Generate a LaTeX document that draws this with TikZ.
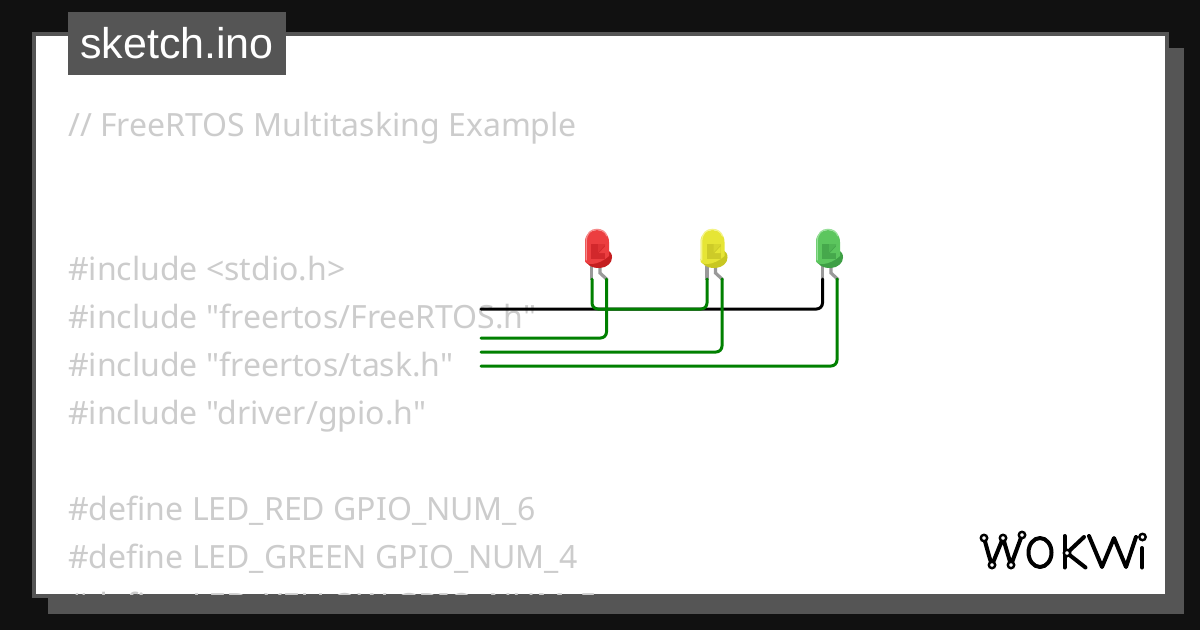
\documentclass[tikz,border=0pt]{standalone}
\usepackage{fontspec}
\setmainfont{Noto Sans}[Ligatures=TeXOff]
\newfontfamily\titlefont{Liberation Sans}
\definecolor{bgdark}{HTML}{111111}
\definecolor{framegray}{HTML}{555555}
\definecolor{codegray}{HTML}{CCCCCC}
\definecolor{wiregreen}{HTML}{008000}
\definecolor{leggray}{HTML}{999999}
\definecolor{redbody}{HTML}{EC3E40}
\definecolor{redrim}{HTML}{C41E20}
\definecolor{redmark}{HTML}{D2282C}
\definecolor{redhi}{HTML}{F68C8C}
\definecolor{yelbody}{HTML}{E6E535}
\definecolor{yelrim}{HTML}{C8C722}
\definecolor{yelmark}{HTML}{CDCB28}
\definecolor{yelhi}{HTML}{F4F388}
\definecolor{grnbody}{HTML}{5CC65E}
\definecolor{grnrim}{HTML}{3E9F45}
\definecolor{grnmark}{HTML}{46A84C}
\definecolor{grnhi}{HTML}{98E09A}
\tikzset{
  codeline/.style={anchor=base west,inner sep=0pt,text=codegray,font=\fontsize{32}{32}\selectfont},
  wire/.style={line width=3pt,rounded corners=6pt,line cap=round},
  greenwire/.style={wire,draw=wiregreen},
  blackwire/.style={wire,draw=black},
  leg/.style={draw=leggray,line width=3.2pt},
  logo/.style={draw=black,line width=4pt,line cap=round,line join=round},
  pad/.style={draw=black,line width=2.4pt,fill=white},
}
% LED: #1 centre x, #2 body, #3 rim, #4 marking, #5 highlight
\newcommand{\ledshape}[5]{%
  \begin{scope}[shift={(#1,230)}]
    \draw[leg] (-5.5,36) -- (-5.5,50);
    \draw[leg] (3,36) -- (3,43) -- (9.5,49) -- (9.5,50);
    \fill[#3] (-12,29) .. controls (-12,34) and (-5,38.5) .. (3,38) .. controls (10,37.5) and (15,33) .. (15,27.5) .. controls (15,24) and (13.5,22) .. (12,21) -- cycle;
    \fill[#2] (-12,31) -- (-12,12) .. controls (-12,-4) and (12,-4) .. (12,12) -- (12,26) .. controls (8,30) and (0,34) .. (-5,34) .. controls (-9,34) and (-12,33) .. (-12,31) -- cycle;
    \fill[#4] (-6,14) -- (8,14) -- (8,29) -- (-6,29) -- cycle;
    \fill[#4!55!#2] (1,14) -- (8,14) -- (8,15) -- (1,22.5) -- cycle;
    \fill[#2] (2,23) -- (8,16.5) -- (8,23) -- cycle;
    \draw[#5,line width=1.3pt,line cap=round] (-10.8,30) -- (-10.8,12) .. controls (-10.8,3) and (-6,-0.6) .. (0,-0.6) .. controls (5,-0.6) and (8.5,2) .. (10,6);
  \end{scope}}
\begin{document}
\begin{tikzpicture}[x=1pt,y=-1pt]
\useasboundingbox (0,0) rectangle (1200,630);
\fill[bgdark] (0,0) rectangle (1200,630);
\fill[framegray] (48,48) rectangle (1184,614);
\fill[framegray] (32,32) rectangle (1169,598);
\fill[white] (36,36) rectangle (1165,594);

\begin{scope}
\clip (36,36) rectangle (1165,594);
\node[codeline] (l1) at (68,136) {// FreeRTOS Multitasking Example};
\node[codeline] (l2) at (68,280) {\#include <stdio.h>};
\node[codeline] (l3) at (68,328) {\#include "freertos/FreeRTOS.h"};
\node[codeline] (l4) at (68,376) {\#include "freertos/task.h"};
\node[codeline] (l5) at (68,424) {\#include "driver/gpio.h"};
\node[codeline] (l6) at (68,520) {\#define LED\_RED GPIO\_NUM\_6};
\node[codeline] (l7) at (68,568) {\#define LED\_GREEN GPIO\_NUM\_4};
\node[codeline] (l8) at (68,616) {\#define LED\_YELLOW GPIO\_NUM\_5};
\end{scope}

\fill[framegray] (68,12) rectangle (286,75);
\node[anchor=base west,inner sep=0pt,text=white,font=\titlefont\fontsize{43}{43}\selectfont] (title) at (80,58) {sketch.ino};

% LEDs
\ledshape{597}{redbody}{redrim}{redmark}{redhi}
\ledshape{712.5}{yelbody}{yelrim}{yelmark}{yelhi}
\ledshape{828}{grnbody}{grnrim}{grnmark}{grnhi}

% wires
\coordinate (w0) at (481,309);
\coordinate (k) at (822.5,279);
\draw[blackwire] (w0) -- (k |- w0) -- (k);
\coordinate (a1) at (592,279);
\coordinate (a2) at (707,279);
\draw[greenwire] (a1) -- (592,309) -- (707,309) -- (a2);
\coordinate (w1) at (481,338);
\coordinate (c1) at (606.5,279);
\draw[greenwire] (w1) -- (c1 |- w1) -- (c1);
\coordinate (w2) at (481,352);
\coordinate (c2) at (722,279);
\draw[greenwire] (w2) -- (c2 |- w2) -- (c2);
\coordinate (w3) at (481,366);
\coordinate (c3) at (837,279);
\draw[greenwire] (w3) -- (c3 |- w3) -- (c3);

% logo
\draw[logo] (984,538) .. controls (987,548) and (989,557) .. (992,565) -- (1003,538) -- (1011,565) -- (1022,535);
\draw[logo] (1040,552.5) ellipse [x radius=11.5,y radius=14.5];
\draw[logo] (1064.5,536) -- (1064.5,567.5);
\draw[logo] (1067,553) -- (1084,537);
\draw[logo] (1067,553) -- (1085.5,567.5);
\draw[logo] (1089,536) -- (1102,567) -- (1114,538) -- (1126,567) -- (1136,537);
\draw[logo] (1142,548) -- (1142,567.5);
\foreach \x/\y in {984/538,1003/538,1022/535,992/565,1011/565,1067/553,1142.5/537}{
  \draw[pad] (\x,\y) circle (3.2pt);
}
\end{tikzpicture}
\end{document}
